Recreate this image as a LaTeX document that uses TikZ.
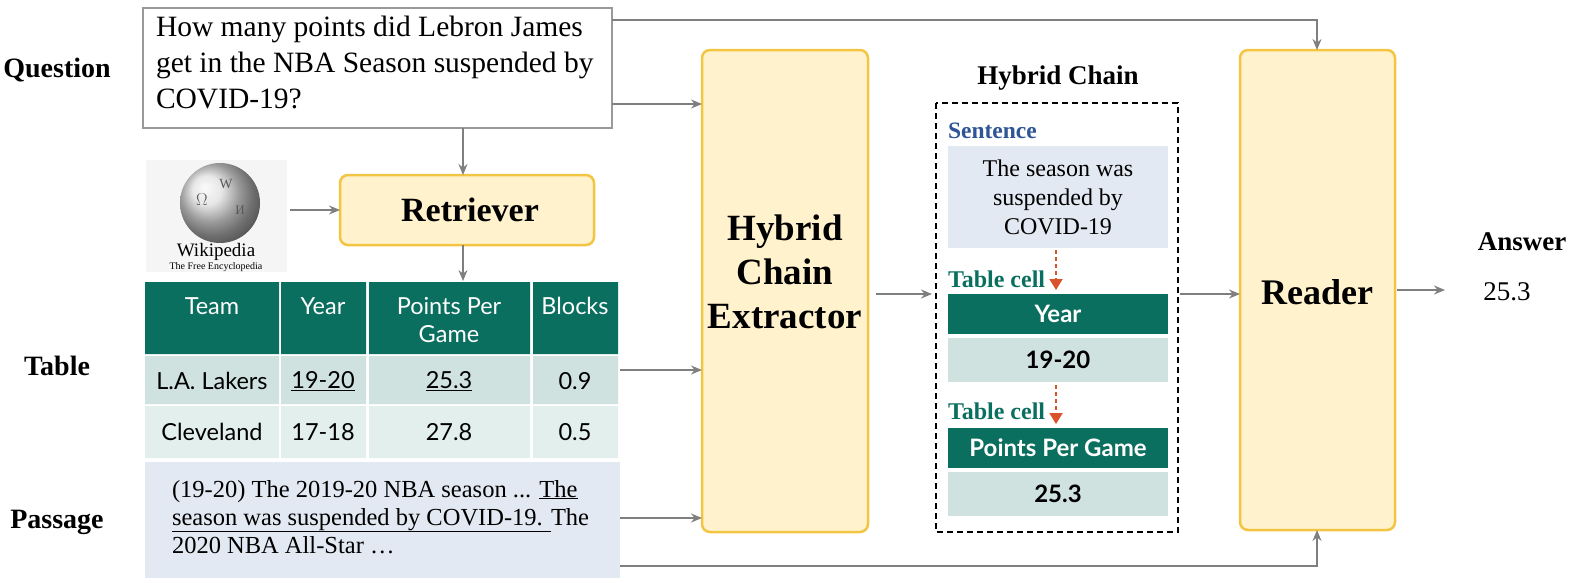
\documentclass[tikz,border=0pt]{standalone}
\usepackage{fontspec}
\setmainfont{Liberation Serif}
\newfontfamily\lato{Lato}
\usetikzlibrary{arrows.meta,positioning}
\definecolor{teal}{HTML}{0B6F5F}
\definecolor{rowa}{HTML}{CFE2DF}
\definecolor{rowb}{HTML}{E3EFED}
\definecolor{pass}{HTML}{E3E9F2}
\definecolor{yfill}{HTML}{FFF2CC}
\definecolor{ydraw}{HTML}{F4C542}
\definecolor{arr}{HTML}{7F7F7F}
\definecolor{sblue}{HTML}{2F5597}
\definecolor{redarr}{HTML}{D9522B}
\tikzset{
 every node/.style={inner sep=0pt,outer sep=0pt},
 ar/.style={draw=arr,line width=1.5pt,-{Stealth[length=11pt,width=9pt]}},
 ybox/.style={draw=ydraw,fill=yfill,line width=2.5pt,rounded corners=8pt},
 lab/.style={font=\fontsize{28}{30}\selectfont\bfseries},
 cell/.style={font=\lato\fontsize{23.5}{28}\selectfont,align=center},
 hcell/.style={cell,text=white},
 bcell/.style={font=\lato\fontsize{24}{28}\selectfont\bfseries,align=center},
 tc/.style={font=\fontsize{24}{26}\selectfont\bfseries,text=teal},
 red/.style={draw=redarr,line width=1.8pt,dash pattern=on 4pt off 3pt,-{Triangle[length=11pt,width=13pt]}},
}
\begin{document}
\begin{tikzpicture}[x=1pt,y=-1pt]
\useasboundingbox (0,0) rectangle (1572,582);
% labels
\node[lab] (lq) at (57,70) {Question};
\node[lab] (lt) at (57,366) {Table};
\node[lab] (lp) at (57,522) {Passage};
% question
\draw[draw=arr!80,line width=1.5pt,fill=white] (143,8) rectangle (612,128);
\node[anchor=north west,align=left,font=\fontsize{29.5}{36}\selectfont] (qt) at (156,16) {How many points did Lebron James\\get in the NBA Season suspended by\\COVID-19?};
\coordinate (qtop) at (612,20);
\coordinate (qright) at (612,104);
\coordinate (qbot) at (463,128);
% wikipedia
\fill[gray!8] (146,160) rectangle (287,272);
\shade[ball color=gray!25] (220,203) circle (40);
\node[font=\fontsize{16}{16}\selectfont,text=gray!70!black] at (202,200) {$\Omega$};
\node[font=\fontsize{14}{14}\selectfont,text=gray!70!black] at (226,184) {W};
\node[font=\fontsize{13}{13}\selectfont,text=gray!70!black] at (240,210) {И};
\node[font=\fontsize{19}{19}\selectfont\scshape] (wk) at (216,252) {Wikipedia};
\node[font=\fontsize{10}{10}\selectfont] at (216,267) {The Free Encyclopedia};
\coordinate (wr) at (290,210);
% retriever
\draw[ybox] (340,175) rectangle (594,245);
\node[font=\fontsize{34}{34}\selectfont\bfseries] (ret) at (470,210) {Retriever};
\coordinate (rtop) at (463,175);
\coordinate (rbot) at (463,245);
\coordinate (rleft) at (340,210);
\coordinate (ttop) at (463,281);
% table
\fill[teal] (145,282) rectangle (279,354) (281,282) rectangle (366,354) (369,282) rectangle (530,354) (533,282) rectangle (618,354);
\fill[rowa] (145,356) rectangle (279,404) (281,356) rectangle (366,404) (369,356) rectangle (530,404) (533,356) rectangle (618,404);
\fill[rowb] (145,406) rectangle (279,458) (281,406) rectangle (366,458) (369,406) rectangle (530,458) (533,406) rectangle (618,458);
\node[hcell] at (212,306) {Team};
\node[hcell] at (323,306) {Year};
\node[hcell] at (449,320) {Points Per\\Game};
\node[hcell] at (575,306) {Blocks};
\node[cell] at (212,381) {L.A. Lakers};
\node[cell] at (323,381) {\underline{19-20}};
\node[cell] at (449,381) {\underline{25.3}};
\node[cell] at (575,381) {0.9};
\node[cell] at (212,432) {Cleveland};
\node[cell] at (323,432) {17-18};
\node[cell] at (449,432) {27.8};
\node[cell] at (575,432) {0.5};
\coordinate (tr) at (620,370);
% passage
\fill[pass] (145,462) rectangle (620,578);
\node[anchor=north west,align=left,font=\fontsize{24.5}{28}\selectfont] (pt) at (172,480) {(19-20) The 2019-20 NBA season ... \underline{The}\\\underline{season was suspended by COVID-19. }The\\2020 NBA All-Star \ldots};
\coordinate (pr) at (620,518);
\coordinate (pb) at (620,566);
% extractor
\draw[ybox] (702,50) rectangle (868,532);
\node[align=center,font=\fontsize{37}{44}\selectfont\bfseries] (ext) at (785,272) {Hybrid\\Chain\\Extractor};
\coordinate (el1) at (702,104);
\coordinate (el2) at (702,370);
\coordinate (el3) at (702,518);
\coordinate (er) at (876,294);
% chain
\node[font=\fontsize{27}{27}\selectfont\bfseries] (hct) at (1058,78) {Hybrid Chain};
\draw[line width=1.2pt,dash pattern=on 6pt off 4pt] (936,103) rectangle (1178,532);
\coordinate (cl) at (932,294);
\coordinate (cr) at (1180,294);
\node[font=\fontsize{23.5}{24}\selectfont\bfseries,text=sblue,anchor=west] at (948,131) {Sentence};
\fill[pass] (948,146) rectangle (1168,248);
\node[align=center,font=\fontsize{24}{29}\selectfont] (sent) at (1058,197) {The season was\\suspended by\\COVID-19};
\node[tc,anchor=west] at (948,279) {Table cell};
\fill[teal] (948,294) rectangle (1168,334);
\node[bcell,text=white] (y) at (1058,314) {Year};
\fill[rowa] (948,338) rectangle (1168,382);
\node[bcell] (y2) at (1058,360) {19-20};
\node[tc,anchor=west] at (948,411) {Table cell};
\fill[teal] (948,428) rectangle (1168,468);
\node[bcell,text=white] (p) at (1058,448) {Points Per Game};
\fill[rowa] (948,472) rectangle (1168,516);
\node[bcell] (p2) at (1058,494) {25.3};
\coordinate (ra1) at (1056,250); \coordinate (ra2) at (1056,290);
\coordinate (rb1) at (1056,385); \coordinate (rb2) at (1056,424);
\draw[red] (ra1) -- (ra2);
\draw[red] (rb1) -- (rb2);
% reader
\draw[ybox] (1240,50) rectangle (1395,530);
\node[font=\fontsize{36}{36}\selectfont\bfseries] (rd) at (1317,292) {Reader};
\coordinate (rdt) at (1317,50);
\coordinate (rdb) at (1317,530);
\coordinate (rdl) at (1240,294);
\coordinate (rdr) at (1397,290);
\coordinate (ans) at (1445,290);
\node[font=\fontsize{27}{27}\selectfont\bfseries] (al) at (1522,242) {Answer};
\node[font=\fontsize{27}{27}\selectfont] (av) at (1507,292) {25.3};
% arrows
\draw[ar] (qbot) -- (rtop);
\draw[ar] (wr) -- (rleft);
\draw[ar] (rbot) -- (ttop);
\draw[ar] (qright) -- (el1);
\draw[ar] (tr) -- (el2);
\draw[ar] (pr) -- (el3);
\draw[ar] (er) -- (cl);
\draw[ar] (cr) -- (rdl);
\draw[ar] (rdr) -- (ans);
\draw[ar] (qtop) -| (rdt);
\draw[ar] (pb) -| (rdb);
\end{tikzpicture}
\end{document}
